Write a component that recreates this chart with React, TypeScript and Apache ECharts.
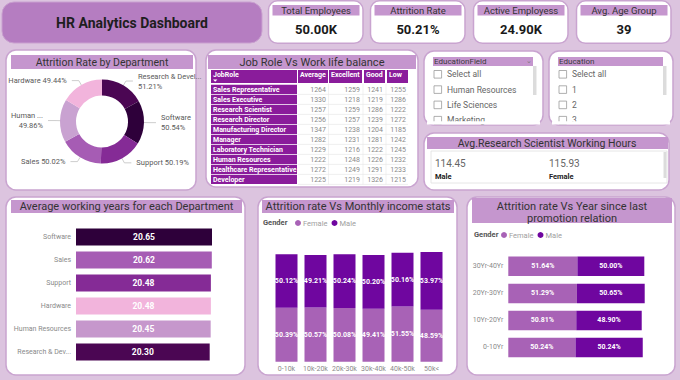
import React, { useEffect, useRef } from "react";
import * as echarts from "echarts";

// ---------- data ----------
const kpiTitles = ["Total Employees", "Attrition Rate", "Active Employess", "Avg. Age Group"];
const kpiValues = ["50.00K", "50.21%", "24.90K", "39"];

const deptNames = ["Research & Development", "Software", "Support", "Sales", "Human Resources", "Hardware"];
const deptShort = ["Research & Devel...", "Software", "Support", "Sales", "Human ...", "Hardware"];
const deptAttrition = [51.21, 50.54, 50.19, 50.02, 49.86, 49.44];

const jobRoles = [
  "Sales Representative",
  "Sales Executive",
  "Research Scientist",
  "Research Director",
  "Manufacturing Director",
  "Manager",
  "Laboratory Technician",
  "Human Resources",
  "Healthcare Representative",
  "Developer",
];
const wlbHeaders = ["JobRole", "Average", "Excellent", "Good", "Low"];
const wlbAverage = [1264, 1330, 1257, 1256, 1347, 1282, 1229, 1222, 1272, 1225];
const wlbExcellent = [1259, 1218, 1259, 1257, 1238, 1231, 1216, 1248, 1249, 1219];
const wlbGood = [1241, 1219, 1286, 1239, 1204, 1281, 1222, 1226, 1291, 1326];
const wlbLow = [1255, 1286, 1222, 1272, 1185, 1242, 1245, 1232, 1233, 1215];

const educationFieldItems = ["Select all", "Human Resources", "Life Sciences", "Marketing"];
const educationItems = ["Select all", "1", "2", "3"];

const rsGenders = ["Male", "Female"];
const rsHours = [114.45, 115.93];

const workDepts = ["Software", "Sales", "Support", "Hardware", "Human Resources", "Research & Dev..."];
const workYears = [20.65, 20.62, 20.48, 20.48, 20.45, 20.3];

const incomeBands = ["0-10k", "10k-20k", "20k-30k", "30k-40k", "40k-50k", "50k<"];
const incomeFemale = [50.39, 50.57, 50.08, 49.41, 51.55, 48.59];
const incomeMale = [50.12, 49.21, 50.24, 50.2, 50.16, 53.97];

const promoBands = ["0-10Yr", "10Yr-20Yr", "20Yr-30Yr", "30Yr-40Yr"];
const promoFemale = [50.24, 50.81, 51.29, 51.64];
const promoMale = [50.24, 48.9, 50.65, 50.0];

// ---------- styles ----------
const FONT = "Roboto, 'Noto Sans', sans-serif";
const BG = "#dcc4df";
const PANEL_STROKE = "#c9a4d0";
const BAND = "#c596ce";
const TABLE_PURPLE = "#8a1c9b";
const donutColors = ["#4b0653", "#2e003a", "#852b96", "#a65cb4", "#c9a2d1", "#f2b4dc"];
const workColors = ["#2e003a", "#a65cb4", "#852b96", "#f2b4dc", "#c697cc", "#4b0653"];
const FEMALE = "#a862b6";
const MALE = "#6f069f";

function txt(x: number, y: number, text: string, o: any = {}) {
  const align = o.align || "left";
  const v = o.v || "middle";
  return {
    type: "text",
    x,
    y,
    silent: true,
    style: {
      text,
      fill: o.fill || "#333",
      fontSize: o.size || 9,
      fontFamily: o.family || FONT,
      fontWeight: o.weight || "normal",
      align,
      verticalAlign: v,
      textAlign: align,
      textVerticalAlign: v,
    },
  };
}

function box(x: number, y: number, w: number, h: number, fill: string, o: any = {}) {
  return {
    type: "rect",
    silent: true,
    shape: { x, y, width: w, height: h, r: o.r || 0 },
    style: { fill, stroke: o.stroke || null, lineWidth: o.lw || 0 },
  };
}

function hline(x1: number, x2: number, y: number, color: string) {
  return { type: "line", silent: true, shape: { x1, y1: y, x2, y2: y }, style: { stroke: color, lineWidth: 0.6 } };
}
function vline(x: number, y1: number, y2: number, color: string) {
  return { type: "line", silent: true, shape: { x1: x, y1, x2: x, y2 }, style: { stroke: color, lineWidth: 0.6 } };
}

function panel(x: number, y: number, w: number, h: number) {
  return box(x, y, w, h, "#ffffff", { r: 10, stroke: PANEL_STROKE, lw: 1.5 });
}

function buildGraphic() {
  const els: any[] = [];
  // header
  els.push(box(2, 2, 260, 41, "#b57dc1", { r: 12, stroke: "#c9a0d0", lw: 1 }));
  els.push(txt(132, 22.5, "HR Analytics Dashboard", { size: 14, weight: "bold", fill: "#1e1e1e", align: "center" }));

  // KPI cards
  const kx = [268.5, 370.5, 473.5, 576.5];
  kpiTitles.forEach((t, i) => {
    els.push(box(kx[i], 0.8, 94.5, 42.5, "#ffffff", { r: 9, stroke: PANEL_STROKE, lw: 1.5 }));
    els.push(box(kx[i] + 4, 5, 87, 10.5, BAND));
    els.push(txt(kx[i] + 47.5, 10.5, t, { size: 9.5, fill: "#333", align: "center" }));
    els.push(txt(kx[i] + 47.5, 29.5, kpiValues[i], { size: 13, weight: "bold", fill: "#1a1a1a", align: "center" }));
  });

  // donut panel
  els.push(panel(6, 50, 190, 140));
  els.push(box(11, 55, 182, 14, BAND));
  els.push(txt(102, 62.5, "Attrition Rate by Department", { size: 10.5, fill: "#333", align: "center" }));

  // table panel
  els.push(panel(206, 50, 212, 137));
  els.push(box(208, 55, 208, 14, BAND));
  els.push(txt(312, 62.5, "Job Role Vs Work life balance", { size: 11, fill: "#333", align: "center" }));
  const colX = [211, 298, 329, 364, 387];
  const colW = [86, 30, 33, 21, 21];
  wlbHeaders.forEach((h, c) => {
    els.push(box(colX[c], 70, colW[c], 13, TABLE_PURPLE));
    els.push(txt(colX[c] + 2, 74.8, h, { size: 7, weight: "bold", fill: "#ffffff" }));
  });
  els.push({
    type: "polygon",
    silent: true,
    shape: { points: [[213, 79.6], [217.4, 79.6], [215.2, 81.8]] },
    style: { fill: "#ffffff" },
  });
  const cols = [wlbAverage, wlbExcellent, wlbGood, wlbLow];
  const gridEnd = colX[4] + colW[4];
  jobRoles.forEach((r, i) => {
    const y = 84.7 + i * 10;
    els.push(box(211, y, 86, 9.3, TABLE_PURPLE));
    els.push(txt(213, y + 4.9, r, { size: 7, weight: "bold", fill: "#ffffff" }));
    cols.forEach((arr, c) => {
      els.push(txt(colX[c + 1] + colW[c + 1] - 2, y + 4.9, String(arr[i]), { size: 7, fill: "#8a8a8a", align: "right" }));
    });
    els.push(hline(298, gridEnd, y + 9.65, "#e2e2e2"));
  });
  [328.5, 363, 386].forEach((x) => els.push(vline(x, 84, 184.5, "#e8e8e8")));

  // slicers
  const slicers = [
    { x: 424, w: 119, title: "EducationField", items: educationFieldItems, chevron: true },
    { x: 549, w: 124, title: "Education", items: educationItems, chevron: false },
  ];
  slicers.forEach((s) => {
    els.push(panel(s.x, 51, s.w, 74));
    els.push(box(s.x + 9, 57, s.x === 424 ? 100 : 105, 9, BAND));
    els.push(txt(s.x + 10, 61.5, s.title, { size: 8, fill: "#3a3a3a" }));
    if (s.chevron) els.push(txt(s.x + 105, 61, "⌄", { size: 7, fill: "#777", align: "center" }));
    s.items.forEach((it, i) => {
      const cy = 74.3 + i * 15.3;
      els.push(box(s.x + 10, cy - 3.8, 7.6, 7.6, "#ffffff", { stroke: "#9a9a9a", lw: 0.8 }));
      els.push(txt(s.x + 23, cy, it, { size: 8.5, fill: "#666" }));
    });
    els.push(box(s.x + 3, 121.2, s.w - 6, 3.3, "#ffffff"));
    els.push(box(s.x + (s.x === 424 ? 109 : 114), 66, 3.5, 29, "#dcdcdc"));
  });

  // research scientist hours
  els.push(panel(424, 133, 245, 57));
  els.push(box(427, 137, 241, 12, BAND));
  els.push(txt(547, 143, "Avg.Research Scientist Working Hours", { size: 10.5, fill: "#333", align: "center" }));
  els.push(box(431, 151, 236, 32, "#ffffff", { stroke: "#e0e0e0", lw: 0.8 }));
  els.push(box(663.5, 152, 3, 26, "#dcdcdc"));
  const rsX = [435, 549];
  rsGenders.forEach((g, i) => {
    els.push(txt(rsX[i], 163.5, rsHours[i].toFixed(2), { size: 10, fill: "#666" }));
    els.push(txt(rsX[i], 176.5, g, { size: 7.5, weight: "bold", fill: "#222" }));
  });

  // bottom panels
  els.push(panel(6, 197, 239, 178));
  els.push(box(11, 200, 231, 13, BAND));
  els.push(txt(126.5, 206.8, "Average working years for each Department", { size: 11, fill: "#333", align: "center" }));

  els.push(panel(258, 197, 199, 178));
  els.push(box(262, 200, 192, 13, BAND));
  els.push(txt(358, 206.8, "Attrition rate Vs Monthly income stats", { size: 11, fill: "#333", align: "center" }));
  els.push(txt(263, 222.3, "Gender", { size: 7.5, weight: "bold", fill: "#555" }));

  els.push(panel(467, 197, 208, 178));
  els.push(box(472, 198, 200, 25, BAND));
  els.push(txt(572, 206, "Attrition rate Vs Year since last", { size: 11, fill: "#333", align: "center" }));
  els.push(txt(572, 218.5, "promotion relation", { size: 11, fill: "#333", align: "center" }));
  els.push(txt(474, 234.3, "Gender", { size: 7.5, weight: "bold", fill: "#555" }));

  return els;
}

const pctLabel = (p: any) => Number(p.value).toFixed(2) + "%";

export default function App() {
  const ref = useRef<HTMLDivElement>(null);
  useEffect(() => {
    if (!ref.current) return;
    const chart = echarts.init(ref.current, undefined, { renderer: "svg" });
    const barLabel = { show: true, position: "inside", color: "#ffffff", fontSize: 7, fontWeight: "bold", formatter: pctLabel };
    const legendBase = {
      data: ["Female", "Male"],
      icon: "circle",
      itemWidth: 6,
      itemHeight: 6,
      itemGap: 4,
      padding: 0,
      textStyle: { color: "#a0a0a0", fontSize: 7.5, padding: [0, 0, 0, -3] },
    };
    const option: any = {
      animation: false,
      backgroundColor: BG,
      textStyle: { fontFamily: FONT },
      graphic: { elements: buildGraphic() },
      legend: [
        { ...legendBase, left: 295, top: 219 },
        { ...legendBase, left: 501, top: 231 },
      ],
      grid: [
        { left: 76, top: 225.5, width: 136, height: 138 },
        { left: 272, top: 244, width: 174, height: 117.7 },
        { left: 508.3, top: 252.8, width: 140.5, height: 108.2 },
      ],
      xAxis: [
        { gridIndex: 0, type: "value", min: 0, max: 20.65, show: false },
        {
          gridIndex: 1,
          type: "category",
          data: incomeBands,
          axisLine: { show: false },
          axisTick: { show: false },
          axisLabel: { color: "#8a8a8a", fontSize: 7, margin: 4, interval: 0 },
        },
        { gridIndex: 2, type: "value", min: 0, max: 105, show: false },
      ],
      yAxis: [
        {
          gridIndex: 0,
          type: "category",
          data: workDepts,
          inverse: true,
          axisLine: { show: false },
          axisTick: { show: false },
          axisLabel: { color: "#8a8a8a", fontSize: 7, margin: 5, interval: 0 },
        },
        { gridIndex: 1, type: "value", min: 0, max: 110, show: false },
        {
          gridIndex: 2,
          type: "category",
          data: promoBands,
          axisLine: { show: false },
          axisTick: { show: false },
          axisLabel: { color: "#8a8a8a", fontSize: 7, margin: 5, interval: 0 },
        },
      ],
      series: [
        {
          type: "pie",
          center: [102, 121.5],
          radius: [26, 42],
          startAngle: 90,
          avoidLabelOverlap: true,
          data: deptNames.map((n, i) => ({ name: n, value: deptAttrition[i], itemStyle: { color: donutColors[i] } })),
          label: {
            fontSize: 7.5,
            color: "#5a5a5a",
            lineHeight: 10,
            overflow: "none",
            formatter: (p: any) => {
              const s = deptShort[p.dataIndex];
              const v = p.value.toFixed(2) + "%";
              return s.length > 8 || s === "Software" ? s + "\n" + v : s + " " + v;
            },
          },
          labelLine: { length: 5, length2: 7, lineStyle: { color: "#c0c0c0", width: 0.8 } },
        },
        {
          type: "bar",
          xAxisIndex: 0,
          yAxisIndex: 0,
          barWidth: 17,
          data: workYears.map((v, i) => ({ value: v, itemStyle: { color: workColors[i] } })),
          label: {
            show: true,
            position: "inside",
            color: "#ffffff",
            fontSize: 8.5,
            fontWeight: "bold",
            formatter: (p: any) => Number(p.value).toFixed(2),
          },
        },
        {
          name: "Female",
          type: "bar",
          stack: "inc",
          xAxisIndex: 1,
          yAxisIndex: 1,
          barWidth: 22,
          itemStyle: { color: FEMALE },
          data: incomeFemale,
          label: barLabel,
        },
        {
          name: "Male",
          type: "bar",
          stack: "inc",
          xAxisIndex: 1,
          yAxisIndex: 1,
          barWidth: 22,
          itemStyle: { color: MALE },
          data: incomeMale,
          label: barLabel,
        },
        {
          name: "Female",
          type: "bar",
          stack: "promo",
          xAxisIndex: 2,
          yAxisIndex: 2,
          barWidth: 19.5,
          itemStyle: { color: FEMALE },
          data: promoFemale,
          label: barLabel,
        },
        {
          name: "Male",
          type: "bar",
          stack: "promo",
          xAxisIndex: 2,
          yAxisIndex: 2,
          barWidth: 19.5,
          itemStyle: { color: MALE },
          data: promoMale,
          label: barLabel,
        },
      ],
    };
    chart.setOption(option);
    return () => chart.dispose();
  }, []);
  return <div ref={ref} style={{ position: "fixed", left: 0, top: 0, width: 680, height: 380 }} />;
}
